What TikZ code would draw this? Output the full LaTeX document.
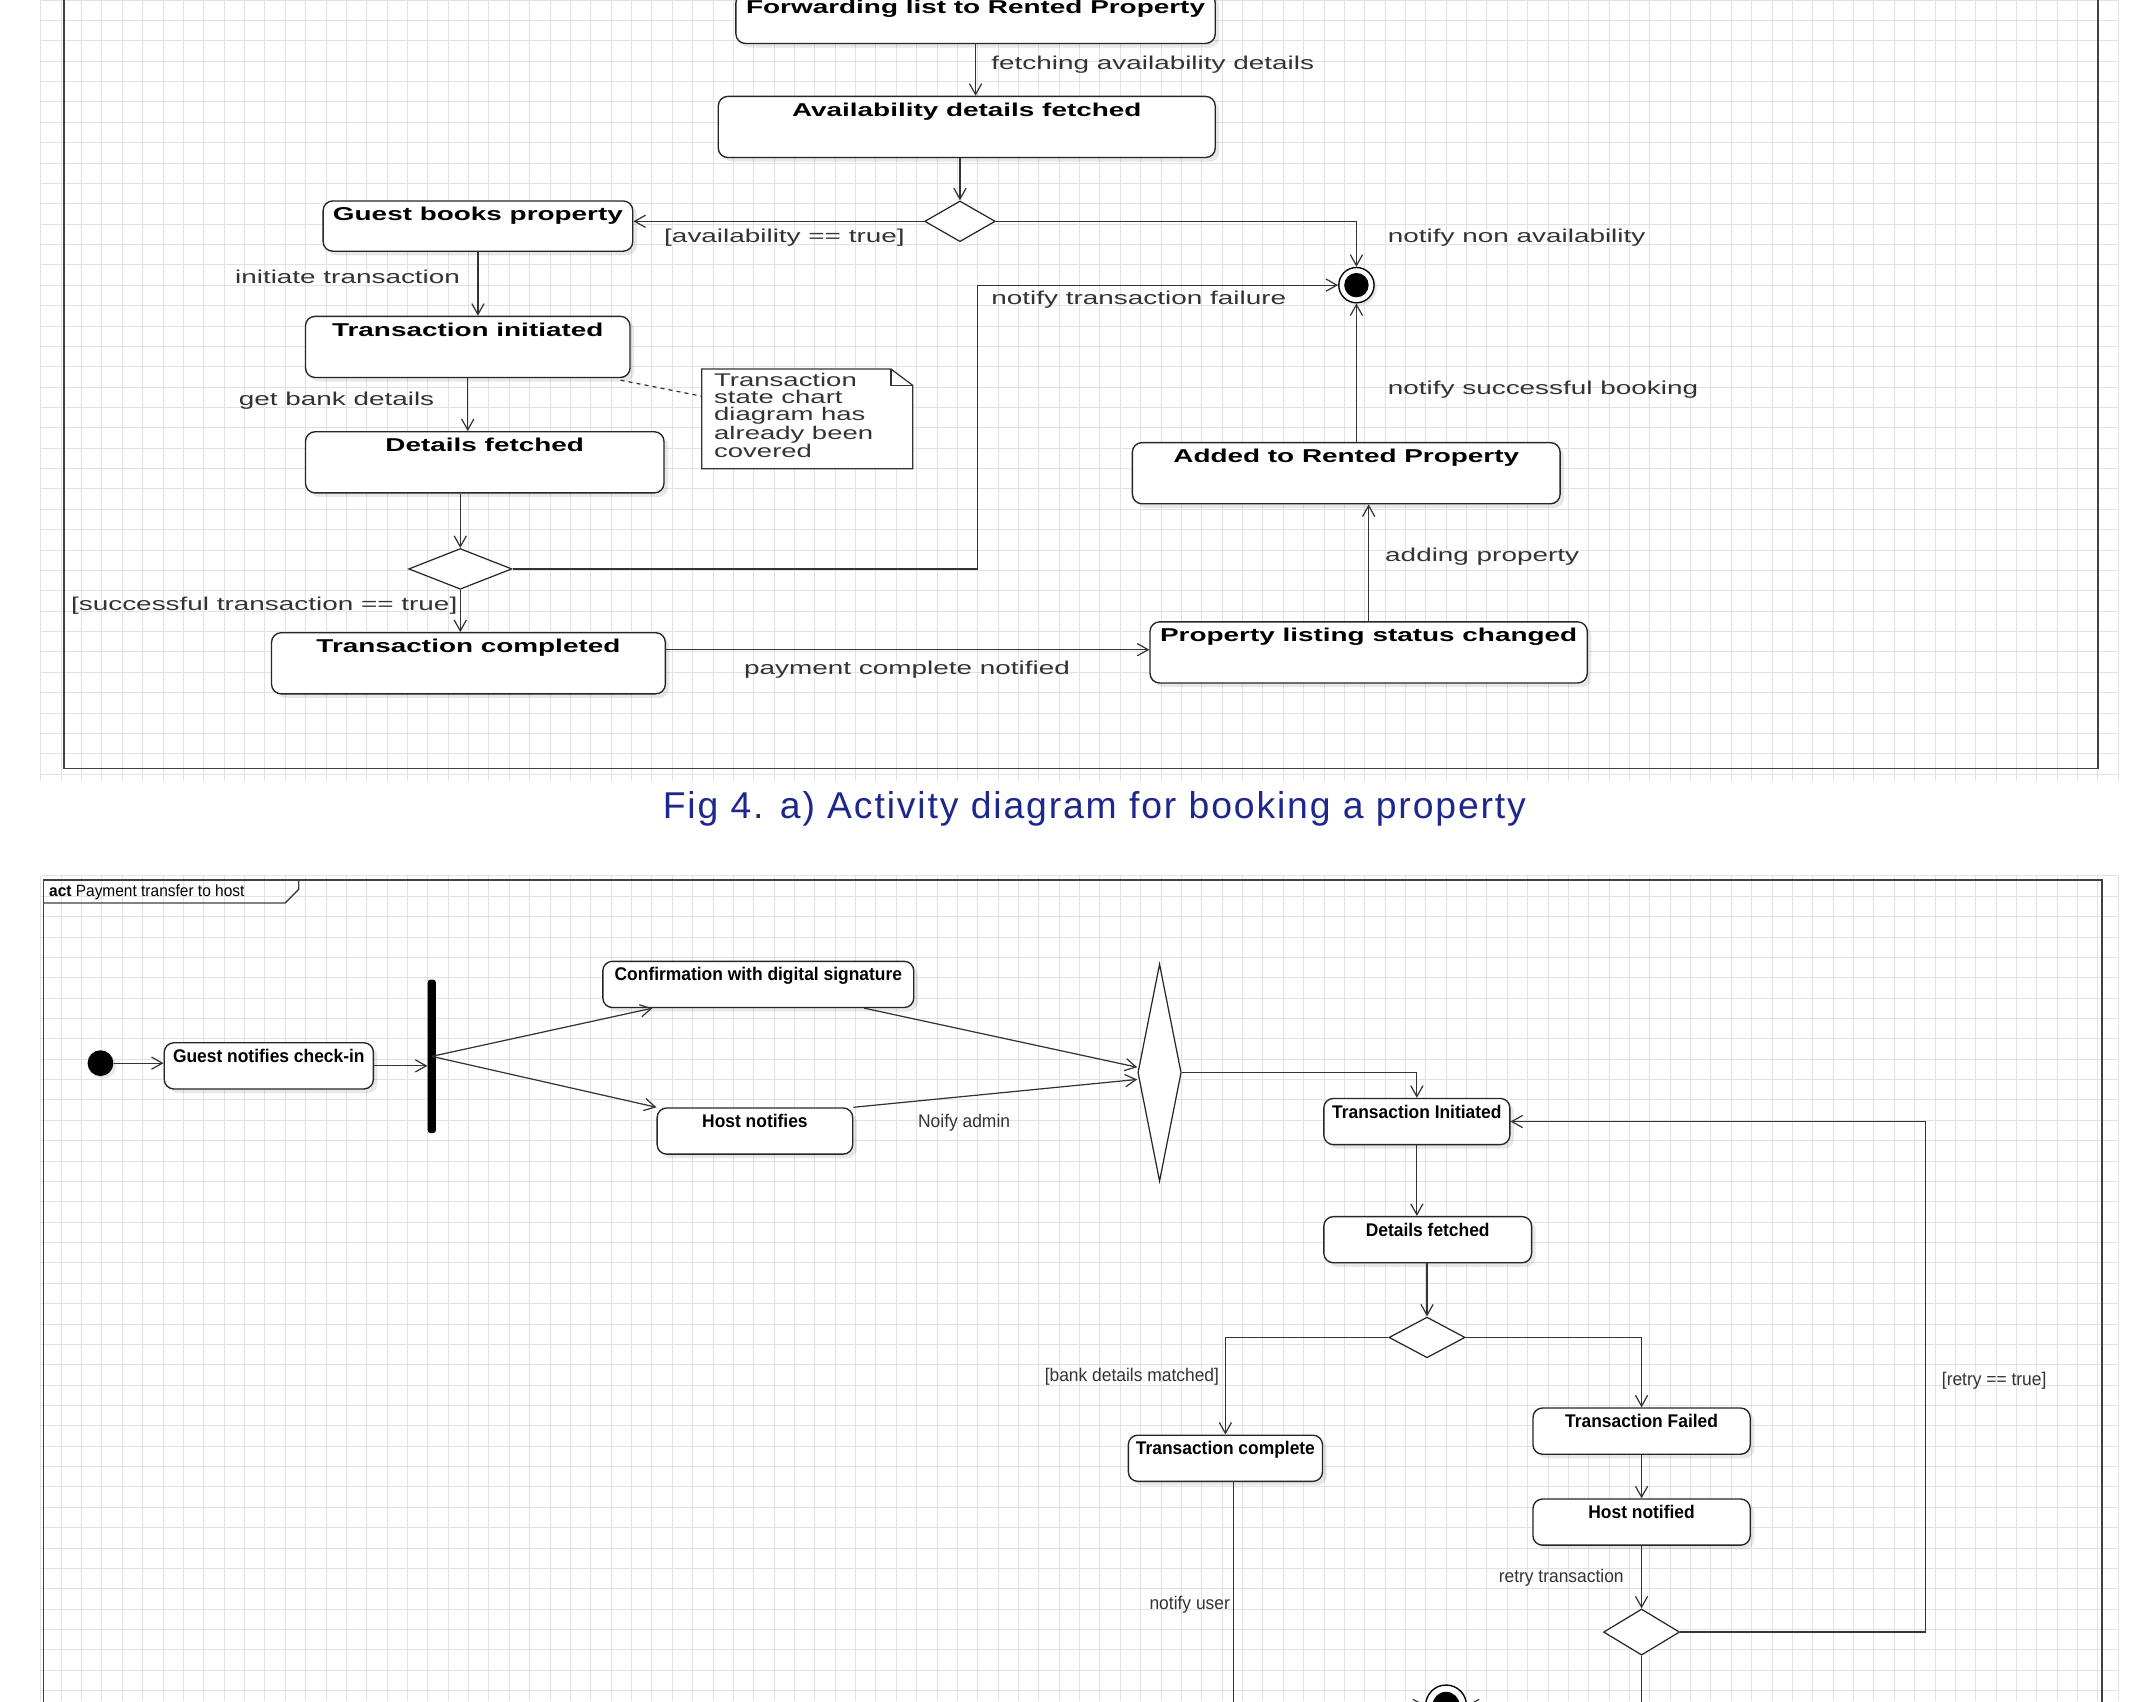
\documentclass[tikz,border=0pt]{standalone}
\usepackage{fontspec}
\setmainfont{Liberation Sans}
\newfontfamily\wf{Liberation Sans}[FakeStretch=1.5]
\newfontfamily\nf{Liberation Sans}[FakeStretch=0.95]
\usetikzlibrary{arrows.meta,shapes.geometric,fit,shadows,calc}
\definecolor{gridc}{RGB}{226,226,226}
\definecolor{capc}{RGB}{30,40,140}
\tikzset{
  box/.style={draw=black!85,line width=1pt,rounded corners=7pt,fill=white,inner sep=0pt,
     drop shadow={opacity=0.18,shadow xshift=3pt,shadow yshift=-3pt}},
  arr/.style={draw=black!80,line width=0.9pt,-{Straight Barb[length=8pt,width=9pt]}},
  ln/.style={draw=black!80,line width=0.9pt},
  dia/.style={diamond,draw=black!85,line width=0.9pt,fill=white,inner sep=0pt},
  tlab/.style={font=\wf\fontsize{13.7}{15}\selectfont,text=black!80,inner sep=1pt},
  tbold/.style={font=\wf\bfseries\fontsize{13.7}{15}\selectfont,inner sep=1pt},
  blab/.style={font=\nf\fontsize{13.5}{15}\selectfont,text=black!80,inner sep=1pt},
  bbold/.style={font=\nf\bfseries\fontsize{13.5}{15}\selectfont,inner sep=1pt},
}
\newcommand\actbox[7]{%
  \node[box,fit={(#2,#3)(#4,#5)}] (#1) {};
  \node[#7,anchor=north] at ([yshift=-4pt]#1.north) {#6};}
\begin{document}
\begin{tikzpicture}[x=1pt,y=-1pt]
\useasboundingbox (0,0) rectangle (1568,1253);
\begin{scope}
\clip (0,0) rectangle (1568,1253);
\fill[white] (0,0) rectangle (1568,1253);
% grids
\foreach \gx in {30,45,...,1560} {\draw[gridc,line width=0.5pt] (\gx,0) -- (\gx,575); \draw[gridc,line width=0.5pt] (\gx,645) -- (\gx,1253);}
\foreach \gy in {0,15,...,575} {\draw[gridc,line width=0.5pt] (30,\gy) -- (1560,\gy);}
\foreach \gy in {645,660,...,1253} {\draw[gridc,line width=0.5pt] (30,\gy) -- (1560,\gy);}
% frames
\draw[black!75,line width=1.2pt] (47,-10) rectangle (1545,566);
\draw[black!75,line width=1.2pt] (32,648) rectangle (1548,1270);
\draw[black!75,line width=1pt] (32,665) -- (210,665) -- (220,655) -- (220,648);
\node[anchor=west,font=\nf\fontsize{12}{13}\selectfont,inner sep=0pt] at (36,657) {\textbf{act}\ Payment transfer to host};

% ---------- top diagram ----------
\actbox{fwd}{542}{-5}{895}{32}{Forwarding list to Rented Property}{tbold}
\actbox{avail}{529}{71}{895}{116}{Availability details fetched}{tbold}
\node[dia,minimum width=52pt,minimum height=30pt] (d1) at (707,163) {};
\actbox{guest}{238}{148}{466}{185}{Guest books property}{tbold}
\actbox{ti}{225}{233}{464}{278}{Transaction initiated}{tbold}
\actbox{df}{225}{318}{489}{363}{Details fetched}{tbold}
\node[dia,minimum width=76pt,minimum height=30pt] (d2) at (339,419) {};
\actbox{tc}{200}{466}{490}{511}{Transaction completed}{tbold}
\actbox{pl}{847}{458}{1169}{503}{Property listing status changed}{tbold}
\actbox{add}{834}{326}{1149}{371}{Added to Rented Property}{tbold}
\node[circle,draw=black,line width=1pt,fill=white,minimum size=26pt,inner sep=0pt,
  drop shadow={opacity=0.18,shadow xshift=2pt,shadow yshift=-2pt}] (fin) at (999,210) {};
\fill[black] (fin.center) circle (9);
% note
\node[inner sep=0pt,fit={(517,272)(672,345)}] (note) {};
\draw[black!80,line width=0.9pt,fill=white] (note.north west) -- ([xshift=-16pt]note.north east) -- ([yshift=-12pt]note.north east) -- (note.south east) -- (note.south west) -- cycle;
\draw[black!80,line width=0.9pt] ([xshift=-16pt]note.north east) -- ([xshift=-16pt,yshift=-12pt]note.north east) -- ([yshift=-12pt]note.north east);
\node[anchor=north west,align=left,font=\wf\fontsize{13.5}{12.5}\selectfont,text=black!80,inner sep=0pt] at ([xshift=9pt,yshift=-3pt]note.north west) {Transaction\\state chart\\diagram has\\already been\\covered};
\coordinate (nt) at (457,280);
\draw[ln,dashed] (nt) -- ([yshift=-20pt]note.north west);

\draw[arr] (fwd.south) -- (fwd.south |- avail.north);
\node[tlab,anchor=west] at (729,48) {fetching availability details};
\draw[arr] (d1.north |- avail.south) -- (d1.north);
\draw[arr] (d1.west) -- (d1.west -| guest.east);
\node[tlab,anchor=west] at (488,175) {[availability == true]};
\draw[arr] (d1.east) -| (fin.north);
\node[tlab,anchor=west] at (1021,175) {notify non availability};
\draw[arr] (guest.south) -- (guest.south |- ti.north);
\node[tlab,anchor=east] at (340,204) {initiate transaction};
\draw[arr] (ti.south) -- (ti.south |- df.north);
\node[tlab,anchor=east] at (321,295) {get bank details};
\draw[arr] (d2.north |- df.south) -- (d2.north);
\coordinate (cx) at (720,210);
\draw[arr] (d2.east) -| (cx) -- (fin.west);
\node[tlab,anchor=west] at (729,221) {notify transaction failure};
\draw[arr] (d2.south) -- (d2.south |- tc.north);
\node[tlab,anchor=east] at (338,446) {[successful transaction == true]};
\draw[arr] ([yshift=10pt]tc.east) -- ([yshift=10pt]tc.east -| pl.west);
\node[tlab] at (668,493) {payment complete notified};
\draw[arr] (pl.north) -- (pl.north |- add.south);
\node[tlab,anchor=west] at (1019,410) {adding property};
\draw[arr] (fin.south |- add.north) -- (fin.south);
\node[tlab,anchor=west] at (1021,287) {notify successful booking};
\end{scope}

% caption
\node[font=\fontsize{27.5}{30}\selectfont,text=capc] (cap) at (806,596) {\addfontfeatures{LetterSpace=5}Fig 4. a) Activity diagram for booking a property};

% ---------- bottom diagram ----------
\begin{scope}
\clip (0,0) rectangle (1568,1253);
\node[circle,fill=black,minimum size=19pt,inner sep=0pt,
  drop shadow={opacity=0.18,shadow xshift=2pt,shadow yshift=-2pt}] (ini) at (74,783) {};
\actbox{gn}{121}{768}{275}{802}{Guest notifies check-in}{bbold}
\node[fill=black,rounded corners=2pt,minimum width=6pt,minimum height=113pt,inner sep=0pt] (bar) at (318,778) {};
\actbox{conf}{444}{708}{673}{742}{Confirmation with digital signature}{bbold}
\actbox{hn1}{484}{816}{628}{850}{Host notifies}{bbold}
\node[dia,minimum width=32pt,minimum height=160pt] (join) at (854,790) {};
\actbox{ti2}{975}{809}{1112}{843}{Transaction Initiated}{bbold}
\actbox{df2}{975}{896}{1128}{930}{Details fetched}{bbold}
\node[dia,minimum width=56pt,minimum height=30pt] (d3) at (1051,985) {};
\actbox{tc2}{831}{1057}{974}{1091}{Transaction complete}{bbold}
\actbox{tf}{1129}{1037}{1289}{1071}{Transaction Failed}{bbold}
\actbox{hn}{1129}{1104}{1289}{1138}{Host notified}{bbold}
\node[dia,minimum width=56pt,minimum height=34pt] (d4) at (1209,1202) {};
\node[circle,draw=black,line width=1pt,fill=white,minimum size=30pt,inner sep=0pt] (fin2) at (1065,1256) {};
\fill[black] (fin2.center) circle (10);

\draw[arr] (ini.east) -- (gn.west |- ini.east);
\draw[arr] (gn.east) -- (gn.east -| bar.west);
\draw[arr] (bar.center) -- ([xshift=-78pt]conf.south);
\draw[arr] (bar.center) -- (hn1.north west);
\draw[arr] ([xshift=78pt]conf.south) -- ([yshift=4pt]join.west);
\draw[arr] (hn1.north east) -- ([yshift=-5pt]join.west);
\node[blab,anchor=west] at (675,827) {Noify admin};
\draw[arr] (join.east) -| (ti2.north);
\draw[arr] (ti2.south) -- (ti2.south |- df2.north);
\draw[arr] (d3.north |- df2.south) -- (d3.north);
\draw[arr] (d3.west) -| (tc2.north);
\node[blab,anchor=east] at (899,1014) {[bank details matched]};
\draw[arr] (d3.east) -| (tf.north);
\draw[arr] (tf.south) -- (tf.south |- hn.north);
\draw[arr] (d4.north |- hn.south) -- (d4.north);
\node[blab,anchor=east] at (1197,1162) {retry transaction};
\coordinate (rx) at (1418,826);
\draw[arr] (d4.east) -| (rx) -- (ti2.east);
\node[blab,anchor=west] at (1429,1017) {[retry == true]};
\draw[arr] ([xshift=6pt]tc2.south) |- (fin2.west);
\node[blab,anchor=east] at (907,1182) {notify user};
\draw[arr] (d4.south) |- (fin2.east);
\end{scope}
\end{tikzpicture}
\end{document}
